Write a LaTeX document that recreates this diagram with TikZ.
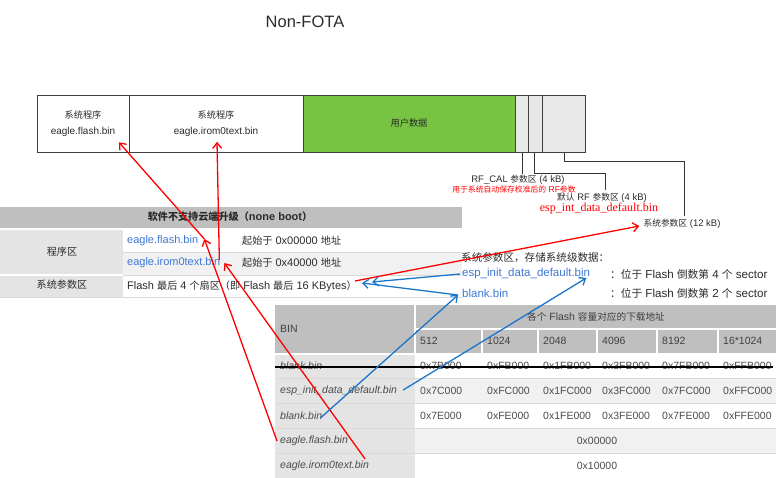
\documentclass[tikz,border=0pt]{standalone}
\usepackage{fontspec}
\setmainfont{Liberation Sans}
\newfontfamily\cjk{Noto Sans CJK SC}[Scale=0.92]
\newfontfamily\serifr{Liberation Serif}
\usetikzlibrary{arrows.meta}
\definecolor{txt}{HTML}{2B2B2B}
\definecolor{barG}{HTML}{76C442}
\definecolor{cellG}{HTML}{E8E8E8}
\definecolor{hdr}{HTML}{BFBFBF}
\definecolor{colone}{HTML}{E4E4E4}
\definecolor{alt}{HTML}{F1F1F1}
\definecolor{sepc}{HTML}{D9D9D9}
\definecolor{link}{HTML}{3F78D6}
\definecolor{arrB}{HTML}{1B75C9}
\definecolor{arrR}{HTML}{FF0000}
\newcommand\zh[1]{{\cjk #1}}
\begin{document}
\begin{tikzpicture}[x=1pt,y=-1pt,
  tn/.style={inner sep=0pt, text=txt},
  barcell/.style={draw=black!75, line width=0.9pt, minimum height=57pt, inner sep=0pt, anchor=north west},
  callout/.style={draw=black!80, line width=0.8pt},
  redarr/.style={draw=arrR, line width=1.3pt, -{Straight Barb[length=5.5pt,width=9pt]}},
  bluearr/.style={draw=arrB, line width=1.3pt, -{Straight Barb[length=5.5pt,width=9pt]}},
  fbar/.style={font=\fontsize{10}{12}\selectfont},
  flt/.style={font=\fontsize{11}{13}\selectfont},
  fbt/.style={font=\fontsize{10.5}{12}\selectfont},
  fcall/.style={font=\fontsize{9.5}{11}\selectfont},
  bname/.style={tn, fbt, anchor=west, text=black!70, font=\fontsize{10.5}{12}\selectfont\itshape},
  bval/.style={tn, fbt, anchor=west, text=black!70},
]
\useasboundingbox (0,0) rectangle (776,478);
\fill[white] (0,0) rectangle (776,478);

% title
\node[tn, font=\fontsize{16.5}{20}\selectfont] (title) at (305,22) {Non-FOTA};

% top bar
\node[barcell, fill=white, minimum width=92] (c1) at (37,95) {};
\node[barcell, fill=white, minimum width=174] (c2) at (129,95) {};
\node[barcell, fill=barG, minimum width=212] (c3) at (303,95) {};
\node[barcell, fill=cellG, minimum width=13] (g1) at (515,95) {};
\node[barcell, fill=cellG, minimum width=14] (g2) at (528,95) {};
\node[barcell, fill=cellG, minimum width=43] (g3) at (542,95) {};
\node[tn, fbar] (t1a) at (83,115) {\zh{系统程序}};
\node[tn, fbar] (t1b) at (83,132) {eagle.flash.bin};
\node[tn, fbar] (t2a) at (216,115) {\zh{系统程序}};
\node[tn, fbar] (t2b) at (216,132) {eagle.irom0text.bin};
\node[tn, fbar] (t3) at (409,123) {\zh{用户数据}};

% callouts
\node[tn, fcall] (l1) at (518,180) {RF\_CAL \zh{参数区} (4 kB)};
\node[tn, text=arrR, font=\fontsize{8.5}{10}\selectfont] (l1r) at (514,190) {\zh{用于系统自动保存校准后的} RF\zh{参数}};
\node[tn, fcall] (l2) at (602,198) {\zh{默认} RF \zh{参数区} (4 kB)};
\node[tn, text=arrR, font=\serifr\fontsize{12}{14}\selectfont] (l2r) at (599,209) {esp\_int\_data\_default.bin};
\node[tn, fcall] (l3) at (682,224) {\zh{系统参数区} (12 kB)};
\draw[callout] ([xshift=0.5]g1.south) -- ++(0,21);
\draw[callout] ([xshift=-1]g2.south) -- ++(0,21) -| ([shift={(3,-3)}]l2.north);
\draw[callout] (g3.south) -- ++(0,9) -| ([shift={(2,-3)}]l3.north);

% left table
\fill[hdr] (0,207) rectangle (462,228);
\fill[colone] (0,230) rectangle (123,297);
\fill[alt] (123,252) rectangle (462,275);
\draw[white, line width=1.5pt] (0,275) -- (123,275);
\draw[sepc, line width=0.6pt] (123,252) -- (462,252) (123,275) -- (462,275) (0,297) -- (462,297);
\node[tn, font=\fontsize{11}{13}\selectfont\bfseries] (lhead) at (230,217) {\zh{\bfseries 软件不支持云端升级（}none boot\zh{\bfseries ）}};
\node[tn, flt] (lprog) at (62,252) {\zh{程序区}};
\node[tn, flt] (lsysz) at (62,285) {\zh{系统参数区}};
\node[tn, flt, anchor=west, text=link] (lflash) at (127,241) {eagle.flash.bin};
\node[tn, flt, anchor=west, text=link] (lirom) at (127,263) {eagle.irom0text.bin};
\node[tn, flt, anchor=west] (lst1) at (242,241) {\zh{起始于} 0x00000 \zh{地址}};
\node[tn, flt, anchor=west] (lst2) at (242,263) {\zh{起始于} 0x40000 \zh{地址}};
\node[tn, flt, anchor=west] (lsys) at (127,286) {Flash \zh{最后} 4 \zh{个扇区（即} Flash \zh{最后} 16 KBytes\zh{）}};

% right text
\node[tn, font=\fontsize{11.5}{13}\selectfont, anchor=west] (rtitle) at (461,258) {\zh{系统参数区，存储系统级数据：}};
\node[tn, font=\fontsize{11.5}{13}\selectfont, anchor=west, text=link] (resp) at (462,274) {esp\_init\_data\_default.bin};
\node[tn, font=\fontsize{11.5}{13}\selectfont, anchor=west, text=link] (rblank) at (462,293) {blank.bin};
\node[tn, font=\fontsize{11.6}{13}\selectfont, anchor=west] (rloc1) at (610,274) {\zh{：位于} Flash \zh{倒数第} 4 \zh{个} sector};
\node[tn, font=\fontsize{11.6}{13}\selectfont, anchor=west] (rloc2) at (610,293) {\zh{：位于} Flash \zh{倒数第} 2 \zh{个} sector};

% bottom table
\fill[hdr] (275,305) rectangle (776,353);
\fill[colone] (275,353) rectangle (415,478);
\fill[alt] (415,378) rectangle (776,403);
\fill[alt] (415,428) rectangle (776,453);
\draw[white, line width=1.5pt] (415,305) -- (415,353) (415,329) -- (776,329)
  (482,329) -- (482,353) (538,329) -- (538,353) (597,329) -- (597,353)
  (657,329) -- (657,353) (718,329) -- (718,353) (275,354) -- (776,354);
\draw[sepc, line width=0.7pt] (275,378) -- (776,378) (275,403) -- (776,403)
  (275,428) -- (776,428) (275,453) -- (776,453);
\node[tn, fbt, anchor=west, text=black!75] (hbin) at (280,329) {BIN};
\node[tn, fbt, text=black!75] (hall) at (596,317) {\zh{各个} Flash \zh{容量对应的下载地址}};
\node[tn, fbt, anchor=west, text=black!75] (h1) at (420,341) {512};
\node[tn, fbt, anchor=west, text=black!75] (h2) at (487,341) {1024};
\node[tn, fbt, anchor=west, text=black!75] (h3) at (543,341) {2048};
\node[tn, fbt, anchor=west, text=black!75] (h4) at (602,341) {4096};
\node[tn, fbt, anchor=west, text=black!75] (h5) at (662,341) {8192};
\node[tn, fbt, anchor=west, text=black!75] (h6) at (723,341) {16*1024};

\node[bname] (b1) at (280,366) {blank.bin};
\node[bname] (be2) at (280,391) {esp\_init\_data\_default.bin};
\node[bname] (b3) at (280,416) {blank.bin};
\node[bname] (bf4) at (280,441) {eagle.flash.bin};
\node[bname] (bi5) at (280,466) {eagle.irom0text.bin};

\node[bval] (v11) at (420,366) {0x7B000};
\node[bval] (v12) at (487,366) {0xFB000};
\node[bval] (v13) at (543,366) {0x1FB000};
\node[bval] (v14) at (602,366) {0x3FB000};
\node[bval] (v15) at (662,366) {0x7FB000};
\node[bval] (v16) at (723,366) {0xFFB000};
\node[bval] (v21) at (420,391) {0x7C000};
\node[bval] (v22) at (487,391) {0xFC000};
\node[bval] (v23) at (543,391) {0x1FC000};
\node[bval] (v24) at (602,391) {0x3FC000};
\node[bval] (v25) at (662,391) {0x7FC000};
\node[bval] (v26) at (723,391) {0xFFC000};
\node[bval] (v31) at (420,416) {0x7E000};
\node[bval] (v32) at (487,416) {0xFE000};
\node[bval] (v33) at (543,416) {0x1FE000};
\node[bval] (v34) at (602,416) {0x3FE000};
\node[bval] (v35) at (662,416) {0x7FE000};
\node[bval] (v36) at (723,416) {0xFFE000};
\node[tn, fbt, text=black!70] (v4) at (597,441) {0x00000};
\node[tn, fbt, text=black!70] (v5) at (597,466) {0x10000};

% strike line
\draw[black, line width=1.8pt] ([shift={(-5,1)}]b1.west) -- ([shift={(1,1)}]v16.east);

% red arrows
\draw[redarr] ([shift={(6,-2)}]lflash.east) -- ([shift={(3.5,5.5)}]t1b.south east);
\draw[redarr] ([shift={(-3,0)}]bf4.west) -- ([shift={(6,-2)}]lflash.east);
\draw[redarr] ([shift={(-1,-3)}]lirom.east) -- ([shift={(1,5)}]t2b.south);
\draw[redarr] ([shift={(-4,-7)}]bi5.east) -- ([shift={(4,0)}]lirom.east);
\draw[redarr] ([shift={(-2,-5)}]lsys.east) -- ([shift={(-4,2)}]l3.west);

% blue arrows
\draw[bluearr] ([shift={(-2,0)}]resp.west) -- ([shift={(15,-4)}]lsys.east);
\draw[bluearr] ([shift={(-4,2)}]rblank.west) -- ([shift={(5,-3)}]lsys.east);
\draw[bluearr] ([shift={(-2,2)}]b3.east) -- ([shift={(-4,2)}]rblank.west);
\draw[bluearr] ([shift={(6,-1)}]be2.east) -- ([shift={(-4,4)}]resp.east);
\end{tikzpicture}
\end{document}
